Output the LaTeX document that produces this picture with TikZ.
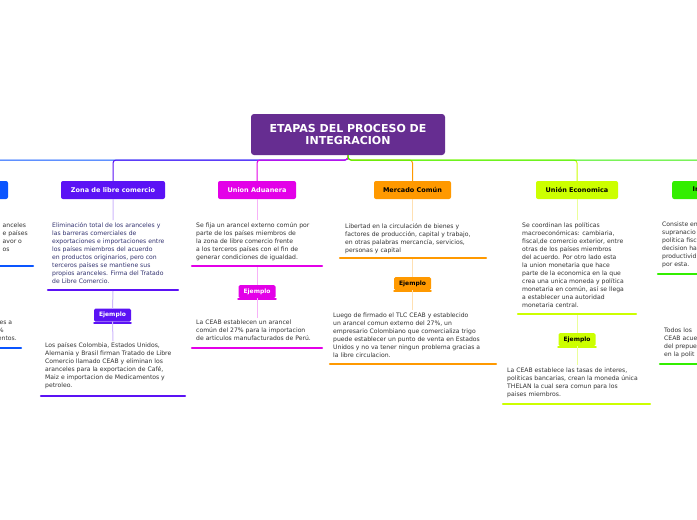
\documentclass[tikz,border=0pt]{standalone}
\usepackage{fontspec}
\setmainfont{DejaVu Sans}
\begin{document}
\begin{tikzpicture}[x=1pt,y=-1pt,
  txt/.style={anchor=north west,align=left,inner sep=0pt,font=\fontsize{6.1}{8}\selectfont,text=black!80},
  topic/.style={rounded corners=2pt,minimum height=18pt,inner sep=0pt,font=\fontsize{6.5}{7}\selectfont\bfseries},
  ej/.style={rounded corners=1.5pt,minimum height=13pt,inner sep=0pt,font=\fontsize{6}{7}\selectfont\bfseries},
  ul/.style={line width=2.2pt,line cap=round},
  br/.style={line width=1pt,rounded corners=3pt},
  lc/.style={line width=1pt}]
\definecolor{cpur}{HTML}{662D91}
\definecolor{cblu}{HTML}{0A55FF}
\definecolor{cvio}{HTML}{5B12F5}
\definecolor{cmag}{HTML}{E300E8}
\definecolor{cora}{HTML}{FF9900}
\definecolor{clim}{HTML}{CCFF00}
\definecolor{cgre}{HTML}{33EE00}
\useasboundingbox (0,0) rectangle (697,520);
\clip (0,0) rectangle (697,520);
\fill[white] (0,0) rectangle (697,520);
% root
\node[fill=cpur,rounded corners=3pt,minimum width=194pt,minimum height=41pt,inner sep=0pt,text=white,align=center,font=\fontsize{11}{12.5}\selectfont\bfseries] (root) at (348,134.5) {ETAPAS DEL PROCESO DE\\INTEGRACION};
% topics
\node[topic,fill=cblu,text=white,minimum width=40pt] (t1) at (-12,190) {};
\node[topic,fill=cvio,text=white,minimum width=104pt] (t2) at (113,190) {Zona de libre comercio};
\node[topic,fill=cmag,text=white,minimum width=78pt] (t3) at (257,190) {Union Aduanera};
\node[topic,fill=cora,text=black,minimum width=77pt] (t4) at (412.5,190) {Mercado Común};
\node[topic,fill=clim,text=black,minimum width=82pt] (t5) at (577,190) {Unión Economica};
\node[topic,fill=cgre,text=black,minimum width=60pt,anchor=west] (t6) at (672,190) {Integ};
\coordinate (rb) at (348,155);
\draw[br,cblu] (rb) -- (348,160) -- (t1.north |- 0,160) -- (t1.north);
\draw[br,cvio] (rb) -- (348,160) -- (113,160) -- (t2.north);
\draw[br,cmag] (rb) -- (348,160) -- (257,160) -- (t3.north);
\draw[br,cora] (rb) -- (348,160) -- (412.5,160) -- (t4.north);
\draw[br,clim] (rb) -- (348,160) -- (577,160) -- (t5.north);
\draw[br,cgre] (rb) -- (348,160) -- (702,160) -- (702,181);
% blue column (clipped)
\node[txt,anchor=north east] (d1) at (28,223) {anceles\\e países\\avor o\\os};
\draw[ul,cblu] (-10,266) -- (33,266);
\node[txt,anchor=north east] (e1) at (17,320) {les a\\\%\\entos.};
\draw[ul,cblu] (-10,348) -- (21,348);
% zona
\node[txt,text=blue!30!black!80] (d2) at (52,222) {Eliminación total de los aranceles y\\las barreras comerciales de\\exportaciones e importaciones entre\\los países miembros del acuerdo\\en productos originarios, pero con\\terceros países se mantiene sus\\propios aranceles. Firma del Tratado\\de Libre Comercio.};
\draw[ul,cvio] (48,290) -- (178,290);
\node[ej,fill=cvio,text=white,minimum width=37pt] (j2) at (112.5,315) {Ejemplo};
\draw[ul,cvio,line width=1.5pt] (94,323) -- (131,323);
\node[txt] (e2) at (45,342) {Los países Colombia, Estados Unidos,\\Alemania y Brasil firman Tratado de Libre\\Comercio llamado CEAB y eliminan los\\aranceles para la exportacion de Café,\\Maiz e importacion de Medicamentos y\\petroleo.};
\draw[ul,cvio] (41,396) -- (185,396);
\draw[lc,cvio!30] (t2.south) -- (113,220) (113,291) -- (j2.north) (j2.south) -- (113,341);
% union aduanera
\node[txt] (d3) at (196,222) {Se fija un arancel externo común por\\parte de los países miembros de\\la zona de libre comercio frente\\a los terceros países con el fin de\\generar condiciones de igualdad.};
\draw[ul,cmag] (192,266) -- (322,266);
\node[ej,fill=cmag,text=white,minimum width=37pt] (j3) at (257,291.5) {Ejemplo};
\draw[ul,cmag,line width=1.5pt] (238,299) -- (276,299);
\node[txt] (e3) at (196,320) {La CEAB establecen un arancel\\común del 27\% para la importacion\\de articulos manufacturados de Perú.};
\draw[ul,cmag] (192,348) -- (322,348);
\draw[lc,cmag!30] (t3.south) -- (257,220) (257,267) -- (j3.north) (j3.south) -- (257,318);
% mercado
\node[txt] (d4) at (345,223) {Libertad en la circulación de bienes y\\factores de producción, capital y trabajo,\\en otras palabras mercancía, servicios,\\personas y capital};
\draw[ul,cora] (340,258) -- (486,258);
\node[ej,fill=cora,text=black,minimum width=37pt] (j4) at (412.5,283.5) {Ejemplo};
\draw[ul,cora,line width=1.5pt] (394,291) -- (431,291);
\node[txt] (e4) at (333,313) {Luego de firmado el TLC CEAB y establecido\\un arancel comun externo del 27\%, un\\empresario Colombiano que comercializa trigo\\puede establecer un punto de venta en Estados\\Unidos y no va tener ningun problema gracias a\\la libre circulacion.};
\draw[ul,cora] (330,364) -- (496,364);
\draw[lc,cora!30] (t4.south) -- (412.5,221) (412.5,259) -- (j4.north) (j4.south) -- (412.5,310);
% union economica
\node[txt] (d5) at (522,222) {Se coordinan las políticas\\macroeconómicas: cambiaria,\\fiscal,de comercio exterior, entre\\otras de los países miembros\\del acuerdo. Por otro lado esta\\la union monetaria que hace\\parte de la economica en la que\\crea una unica moneda y política\\monetaria en común, así se llega\\a establecer una autoridad\\monetaria central.};
\draw[ul,clim] (518,314) -- (636,314);
\node[ej,fill=clim,text=black,minimum width=37pt] (j5) at (577,339.5) {Ejemplo};
\draw[ul,clim,line width=1.5pt] (558,347) -- (596,347);
\node[txt] (e5) at (507,368) {La CEAB establece las tasas de interes,\\politicas bancarias, crean la moneda única\\THELAN la cual sera comun para los\\paises miembros.};
\draw[ul,clim] (503,404) -- (650,404);
\draw[lc,clim!40] (t5.south) -- (577,220) (577,315) -- (j5.north) (j5.south) -- (577,365);
% green (clipped)
\node[txt] (d6) at (662,222) {Consiste en\\supranacio\\politica fisc\\decision ha\\productivid\\por esta.};
\draw[ul,cgre] (658,274) -- (705,274);
\node[txt] (e6) at (664,328) {Todos los\\CEAB acue\\del prepue\\en la polit};
\draw[ul,cgre] (660,364) -- (705,364);
\end{tikzpicture}
\end{document}
